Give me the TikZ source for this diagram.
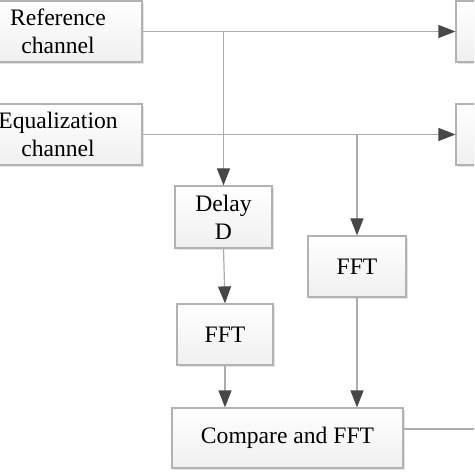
\documentclass[tikz,border=0pt]{standalone}
\usepackage{fontspec}
\setmainfont{Liberation Serif}
\usetikzlibrary{arrows.meta,shadows}
\begin{document}
\begin{tikzpicture}[x=.5pt, y=-.5pt, line width=.6pt,
	block/.style={draw=gray!60, top color=white, bottom color=gray!12, align=center,
		font=\fontsize{11.8}{14}\selectfont, inner sep=0pt,
		drop shadow={shadow xshift=.8pt, shadow yshift=-.8pt, fill=gray!35, opacity=.6}},
	link/.style={draw=gray!65},
	tip/.style={-{Triangle[length=8.5pt, width=6.5pt, color=black!72]}}]
	\clip (0,0) rectangle (474,474);
	\node[block, minimum width=84pt,   minimum height=30.5pt] (ref)  at (58,31.5)   {Reference\\channel};
	\node[block, minimum width=84pt,   minimum height=30.5pt] (equ)  at (58,134.5)  {Equalization\\channel};
	\node[block, minimum width=84pt,   minimum height=30.5pt] (outa) at (540,31.5)  {};
	\node[block, minimum width=84pt,   minimum height=30.5pt] (outb) at (540,134.5) {};
	\node[block, minimum width=48.5pt, minimum height=31pt]   (delay) at (223.5,217) {Delay\\D};
	\node[block, minimum width=49pt,   minimum height=30.5pt] (ffte) at (357,266.5) {FFT};
	\node[block, minimum width=48pt,   minimum height=30.5pt] (fftr) at (225,334.5) {FFT};
	\node[block, minimum width=115.5pt, minimum height=30pt]  (cmp)  at (287.5,438) {Compare and FFT};
	\coordinate (out) at (474,429);
	% reference path
	\draw[link, tip] (ref.east) -- (ref.east -| outa.west);
	\draw[link, tip] (delay.north |- ref.east) -- (delay.north);
	\draw[link, tip] (delay.south) -- (fftr.north);
	\draw[link, tip] (fftr.south) -- (fftr.south |- cmp.north);
	% equalization path
	\draw[link, tip] (equ.east) -- (equ.east -| outb.west);
	\draw[link, tip] (ffte.north |- equ.east) -- (ffte.north);
	\draw[link, tip] (ffte.south) -- (ffte.south |- cmp.north);
	\draw[link] (cmp.east |- out) -- (out);
\end{tikzpicture}
\end{document}
